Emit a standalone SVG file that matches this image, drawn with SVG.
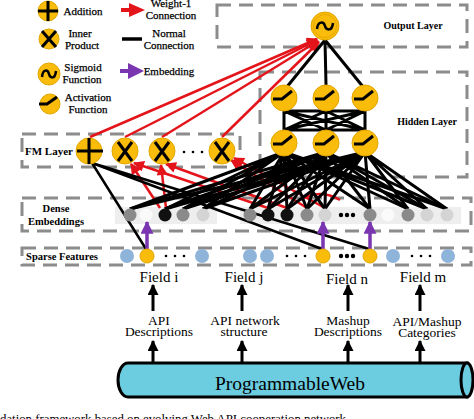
<svg xmlns="http://www.w3.org/2000/svg" width="474" height="419" viewBox="0 0 474 419">
<defs>
<style>
.box{fill:none;stroke:#8c8c8c;stroke-width:3;stroke-dasharray:14 8}
.org{fill:#f9bc0a;stroke:#e2a600;stroke-width:1}
.g{stroke:#000;stroke-width:3;fill:none;stroke-linecap:butt}
.lg{font-family:"Liberation Serif",serif;font-size:11px;fill:#000;stroke:#000;stroke-width:0.25;text-anchor:middle}
.lb{font-family:"Liberation Serif",serif;font-size:10.5px;font-weight:bold;fill:#000;text-anchor:middle}
.fd{font-family:"Liberation Serif",serif;font-size:15px;fill:#000;text-anchor:middle}
.src{font-family:"Liberation Serif",serif;font-size:13.5px;fill:#000;text-anchor:middle}
.red{stroke:#e4141b;stroke-width:2.5;fill:none}
.blk{stroke:#000;stroke-width:2.5;fill:none}
.sp{fill:#8fb4da}
</style>
<marker id="ar" viewBox="0 0 10 10" refX="9" refY="5" markerWidth="12" markerHeight="11" markerUnits="userSpaceOnUse" orient="auto"><path d="M0,0 L10,5 L0,10 z" fill="#e4141b"/></marker>
<marker id="ab" viewBox="0 0 10 10" refX="9" refY="5" markerWidth="11" markerHeight="11" markerUnits="userSpaceOnUse" orient="auto"><path d="M0,0 L10,5 L0,10 z" fill="#000"/></marker>
<marker id="ap" viewBox="0 0 10 10" refX="9" refY="5" markerWidth="13" markerHeight="13" markerUnits="userSpaceOnUse" orient="auto"><path d="M0,0 L10,5 L0,10 z" fill="#7a35b0"/></marker>
<g id="act"><path class="g" d="M-11,1 H-2 L8,-7"/></g>
</defs>
<rect width="474" height="419" fill="#fff"/>

<g id="boxes">
<rect class="box" x="217" y="5" width="250" height="42"/>
<rect class="box" x="260" y="72" width="207" height="105"/>
<rect class="box" x="22" y="134" width="218" height="33"/>
<rect class="box" x="22" y="198" width="449" height="33"/>
<rect class="box" x="22" y="248" width="449" height="17"/>
<text class="lb" x="413" y="29" style="font-size:10px">Output Layer</text>
<text class="lb" x="427" y="125" style="font-size:10px">Hidden Layer</text>
<text class="lb" x="49" y="155" style="font-size:11px">FM Layer</text>
<text class="lb" x="56" y="212">Dense</text>
<text class="lb" x="56" y="225">Embeddings</text>
<text class="lb" x="62" y="260">Sparse Features</text>
<rect x="115" y="207" width="102" height="17" fill="#eeeeee"/>
<rect x="240" y="207" width="221" height="17" fill="#eeeeee"/>
</g>

<g id="legend">
<circle class="org" cx="48" cy="11" r="10"/>
<path class="g" d="M38,11 H58 M48,1 V21"/>
<text class="lg" x="83" y="15">Addition</text>
<circle class="org" cx="49" cy="39" r="10"/>
<path class="g" d="M42,31 L56,47 M56,31 L42,47"/>
<text class="lg" x="80" y="37">Inner</text>
<text class="lg" x="82" y="49">Product</text>
<circle class="org" cx="49" cy="74" r="11" stroke="#d99a00"/>
<path class="g" style="stroke-width:2.5" d="M42,77 C43,68 48,70 49,74 C50,78 55,80 56,71"/>
<text class="lg" x="83" y="71">Sigmoid</text>
<text class="lg" x="82" y="83">Function</text>
<circle class="org" cx="50" cy="104" r="10"/>
<path class="g" d="M39,104 H47 L57,97"/>
<text class="lg" x="88" y="101">Activation</text>
<text class="lg" x="88" y="113">Function</text>
<path d="M121,10 H131" stroke="#e4141b" stroke-width="4"/>
<path d="M129,3 L145,10 L129,17 z" fill="#e4141b"/>
<text class="lg" x="171" y="7">Weight-1</text>
<text class="lg" x="171" y="19">Connection</text>
<path d="M122,39 H142" stroke="#000" stroke-width="3.5"/>
<text class="lg" x="169" y="37">Normal</text>
<text class="lg" x="169" y="49">Connection</text>
<path d="M120,71 H130" stroke="#7a35b0" stroke-width="4"/>
<path d="M128,63 L144,71 L128,79 z" fill="#7a35b0"/>
<text class="lg" x="169" y="75">Embedding</text>
</g>

<g id="connectors">
<path class="red" marker-end="url(#ar)" d="M90,137 L317,39"/>
<path class="red" marker-end="url(#ar)" d="M125,137 L317,40"/>
<path class="red" marker-end="url(#ar)" d="M162,137 L318,41"/>
<path class="red" marker-end="url(#ar)" d="M222,137 L319,42"/>
<path class="red" marker-end="url(#ar)" d="M160,208 L131,164"/>
<path class="red" marker-end="url(#ar)" d="M268,208 L134,163"/>
<path class="red" marker-end="url(#ar)" d="M166,208 L161,165"/>
<path class="red" marker-end="url(#ar)" d="M287,208 L166,164"/>
<path class="red" marker-end="url(#ar)" d="M307,208 L231,160"/>
<path class="red" marker-end="url(#ar)" d="M325,208 L234,158"/>
<path class="red" d="M300,200 Q320,188 340,200"/>
<path class="blk" style="stroke-width:3" d="M325,40 L286,88 M325,40 L326,85 M325,40 L364,88"/>
<path class="blk" style="stroke-width:3" d="M284,111 L284,130 M284,111 L326,130 M284,111 L365,130 M326,111 L284,130 M326,111 L326,130 M326,111 L365,130 M365,111 L284,130 M365,111 L326,130 M365,111 L365,130 M284,111 H365 M284,130 H365"/>
<g class="blk" style="stroke-width:3">
<path d="M284,152 L130,209 M284,152 L165,209 M284,152 L183,209 M284,152 L203,209 M284,152 L250,209 M284,152 L268,209 M284,152 L287,209 M284,152 L307,209 M284,152 L325,209 M284,152 L370,209 M284,152 L408,209 M284,152 L427,209 M284,152 L447,209"/>
<path d="M326,152 L130,209 M326,152 L165,209 M326,152 L183,209 M326,152 L203,209 M326,152 L250,209 M326,152 L268,209 M326,152 L287,209 M326,152 L307,209 M326,152 L325,209 M326,152 L370,209 M326,152 L408,209 M326,152 L427,209 M326,152 L447,209"/>
<path d="M365,152 L130,209 M365,152 L165,209 M365,152 L183,209 M365,152 L203,209 M365,152 L250,209 M365,152 L268,209 M365,152 L287,209 M365,152 L307,209 M365,152 L325,209 M365,152 L370,209 M365,152 L408,209 M365,152 L427,209 M365,152 L447,209"/>
</g>
<path class="blk" d="M92,163 L146,249 M92,163 L322,249 M92,163 L369,249"/>
<path stroke="#7a35b0" stroke-width="3.5" marker-end="url(#ap)" d="M147,249 L147,222"/>
<path stroke="#7a35b0" stroke-width="3.5" marker-end="url(#ap)" d="M323,249 L323,222"/>
<path stroke="#7a35b0" stroke-width="3.5" marker-end="url(#ap)" d="M370,249 L370,222"/>
<g stroke="#000" stroke-width="3" marker-end="url(#ab)">
<path d="M153,311 L153,285"/>
<path d="M242,311 L242,285"/>
<path d="M348,311 L348,285"/>
<path d="M420,311 L420,285"/>
<path d="M153,363 L153,341"/>
<path d="M242,363 L242,341"/>
<path d="M348,363 L348,341"/>
<path d="M420,363 L420,341"/>
</g>
</g>

<g id="output-node"><circle class="org" cx="325" cy="26" r="14"/><circle cx="325" cy="26" r="11.5" fill="none" stroke="#e8a800" stroke-width="1"/><path class="g" style="stroke-width:2.5" d="M317,29 C318,20 324,22 325,26 C326,30 332,32 333,23"/></g>
<g id="hidden-nodes">
<g id="h1"><circle class="org" cx="284" cy="98" r="13"/><use href="#act" x="284" y="98"/></g>
<g id="h2"><circle class="org" cx="326" cy="98" r="13"/><use href="#act" x="326" y="98"/></g>
<g id="h3"><circle class="org" cx="365" cy="98" r="13"/><use href="#act" x="365" y="98"/></g>
<g id="h4"><circle class="org" cx="284" cy="143" r="13"/><use href="#act" x="284" y="143"/></g>
<g id="h5"><circle class="org" cx="326" cy="143" r="13"/><use href="#act" x="326" y="143"/></g>
<g id="h6"><circle class="org" cx="365" cy="143" r="13"/><use href="#act" x="365" y="143"/></g>
</g>
<g id="fm-nodes">
<g id="fm-add"><circle class="org" cx="89" cy="151" r="13"/><path class="g" d="M77,151 H103 M89,138 V164"/></g>
<g id="fm-x1"><circle class="org" cx="125" cy="151" r="13"/><path class="g" d="M118,142 L132,161 M132,142 L118,161"/></g>
<g id="fm-x2"><circle class="org" cx="162" cy="151" r="13"/><path class="g" d="M155,142 L169,161 M169,142 L155,161"/></g>
<g id="fm-x3"><circle class="org" cx="222" cy="151" r="13"/><path class="g" d="M215,142 L229,161 M229,142 L215,161"/></g>
<g fill="#000"><circle cx="184" cy="152" r="1.3"/><circle cx="193" cy="152" r="1.3"/><circle cx="202" cy="152" r="1.3"/></g>
</g>
<g id="dense-nodes">
<circle cx="130" cy="215" r="6.5" fill="#8a8a8a"/>
<circle cx="146" cy="215" r="6.5" fill="#fafafa"/>
<circle cx="165" cy="215" r="6.5" fill="#111"/>
<circle cx="183" cy="215" r="6.5" fill="#8a8a8a"/>
<circle cx="203" cy="215" r="6.5" fill="#d4d4d4"/>
<circle cx="250" cy="215" r="6.5" fill="#8a8a8a"/>
<circle cx="268" cy="215" r="6.5" fill="#111"/>
<circle cx="287" cy="215" r="6.5" fill="#111"/>
<circle cx="307" cy="215" r="6.5" fill="#8a8a8a"/>
<circle cx="325" cy="215" r="6.5" fill="#d4d4d4"/>
<circle cx="341" cy="215" r="2.2" fill="#000"/><circle cx="347" cy="215" r="2.2" fill="#000"/><circle cx="353" cy="215" r="2.2" fill="#000"/>
<circle cx="370" cy="215" r="6.5" fill="#8a8a8a"/>
<circle cx="388" cy="215" r="6.5" fill="#fafafa"/>
<circle cx="408" cy="215" r="6.5" fill="#8a8a8a"/>
<circle cx="427" cy="215" r="6.5" fill="#d4d4d4"/>
<circle cx="447" cy="215" r="6.5" fill="#d4d4d4"/>
</g>
<g id="sparse-nodes">
<circle class="sp" cx="127" cy="256" r="7"/>
<circle class="org" cx="147" cy="256" r="7"/>
<circle cx="166" cy="256" r="1.3"/><circle cx="175" cy="256" r="1.3"/><circle cx="184" cy="256" r="1.3"/>
<circle class="sp" cx="202" cy="256" r="7"/>
<circle class="sp" cx="250" cy="256" r="7"/>
<circle class="sp" cx="267" cy="256" r="7"/>
<circle cx="287" cy="256" r="1.3"/><circle cx="296" cy="256" r="1.3"/><circle cx="305" cy="256" r="1.3"/>
<circle class="org" cx="323" cy="256" r="7"/>
<circle cx="341" cy="256" r="2.2"/><circle cx="347" cy="256" r="2.2"/><circle cx="353" cy="256" r="2.2"/>
<circle class="org" cx="370" cy="256" r="7"/>
<circle class="sp" cx="393" cy="256" r="7"/>
<circle cx="412" cy="256" r="1.3"/><circle cx="421" cy="256" r="1.3"/><circle cx="430" cy="256" r="1.3"/>
<circle class="sp" cx="448" cy="256" r="7"/>
</g>
<g id="fields">
<text class="fd" x="159" y="282">Field i</text>
<text class="fd" x="244" y="282">Field j</text>
<text class="fd" x="347" y="284">Field n</text>
<text class="fd" x="423" y="282">Field m</text>
</g>
<g id="sources">
<text class="src" x="159" y="324.5">API</text>
<text class="src" x="159" y="336">Descriptions</text>
<text class="src" x="245" y="324.5">API network</text>
<text class="src" x="244" y="336">structure</text>
<text class="src" x="348" y="324.5">Mashup</text>
<text class="src" x="348" y="336">Descriptions</text>
<text class="src" x="427" y="325.5">API/Mashup</text>
<text class="src" x="427" y="337">Categories</text>
</g>
<g id="programmableweb">
<path d="M128,363 H467 V397 H128 A10,17 0 0 1 128,363 z" fill="#6dcde0" stroke="#000" stroke-width="3"/>
<ellipse cx="467" cy="380" rx="6" ry="17" fill="#6dcde0" stroke="#000" stroke-width="3"/>
<text x="290" y="390" font-family="Liberation Serif, serif" font-size="19.5" text-anchor="middle" fill="#000">ProgrammableWeb</text>
</g>
<text x="0" y="423" font-family="Liberation Serif, serif" font-size="13" textLength="346" lengthAdjust="spacingAndGlyphs" fill="#000">dation framework based on evolving Web API cooperation network</text>
</svg>
